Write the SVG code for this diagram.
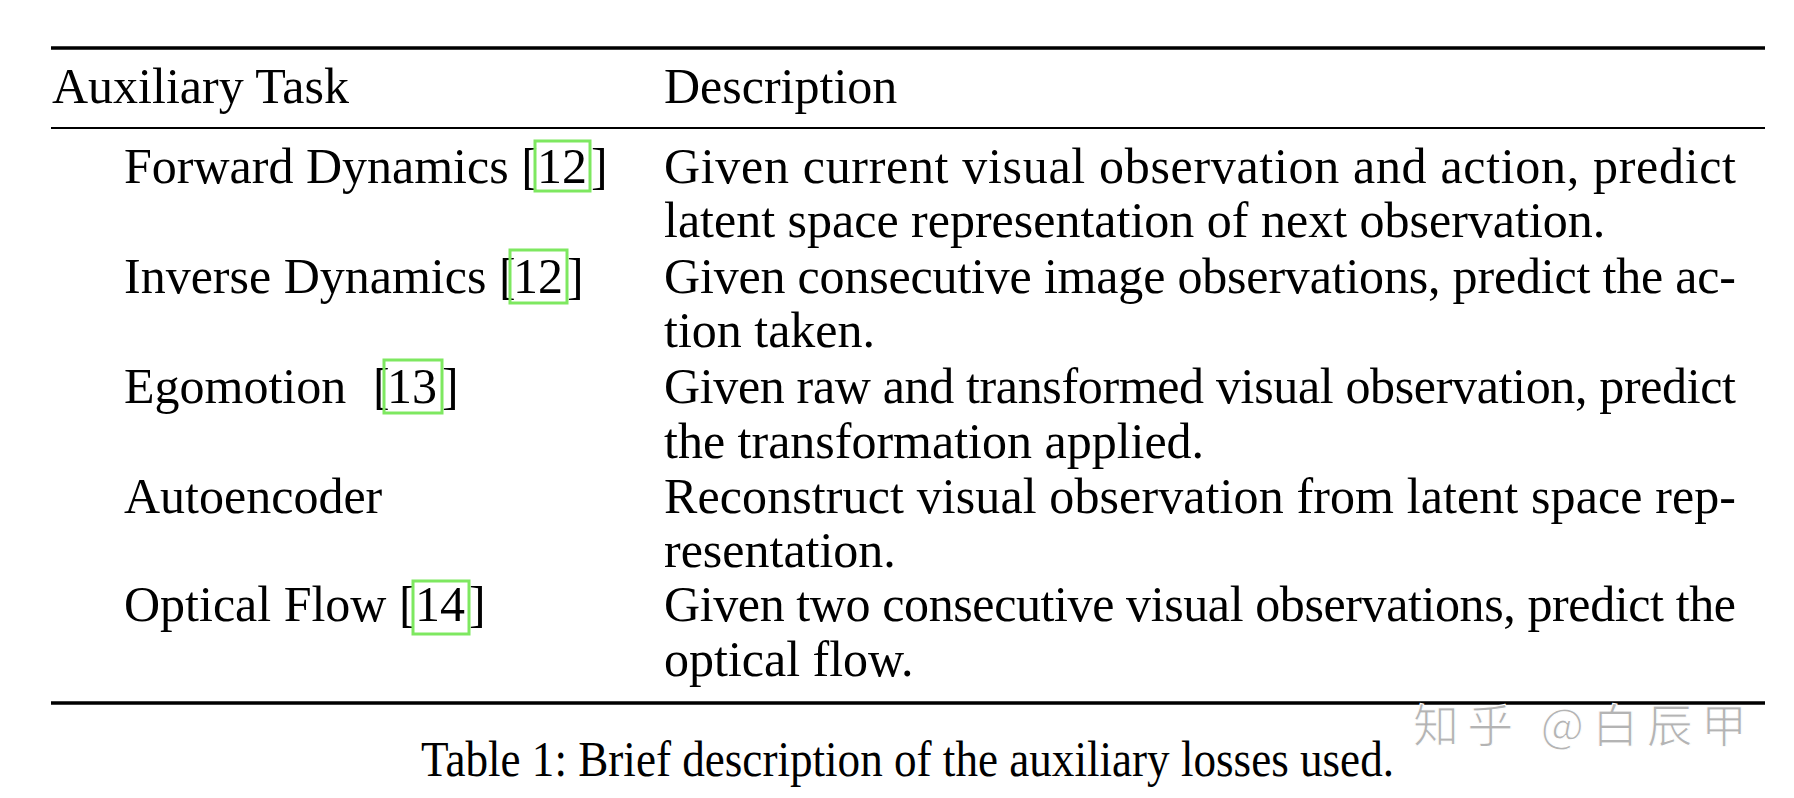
<svg xmlns="http://www.w3.org/2000/svg" width="1794" height="798" viewBox="0 0 1794 798">
<style>
text{font-family:"Liberation Serif","Times New Roman",serif;font-size:50px;fill:#000}
.r{fill:none;stroke:#7ee860;stroke-width:3}
.m{text-anchor:middle}
</style>
<rect width="1794" height="798" fill="#fff"/>
<g id="rules">
<line x1="51" y1="48" x2="1765" y2="48" stroke="#000" stroke-width="3.5"/>
<line x1="51" y1="128" x2="1765" y2="128" stroke="#000" stroke-width="2"/>
<line x1="51" y1="703" x2="1765" y2="703" stroke="#000" stroke-width="3.5"/>
</g>
<g id="header">
<text x="52" y="103">Auxiliary Task</text>
<text x="664" y="103">Description</text>
</g>
<g id="left">
<text x="124" y="183">Forward Dynamics [</text><text x="562" y="183" class="m">12</text><text x="591" y="183">]</text>
<rect class="r" x="535" y="141" width="55" height="50"/>
<text x="124" y="293">Inverse Dynamics [</text><text x="538" y="293" class="m">12</text><text x="567" y="293">]</text>
<rect class="r" x="510" y="250" width="57" height="53"/>
<text x="124" y="403">Egomotion</text><text x="373" y="403">[</text><text x="412" y="403" class="m">13</text><text x="442" y="403">]</text>
<rect class="r" x="384" y="360" width="58" height="53"/>
<text x="124" y="513">Autoencoder</text>
<text x="124" y="621">Optical Flow [</text><text x="440" y="621" class="m">14</text><text x="469" y="621">]</text>
<rect class="r" x="413" y="581" width="56" height="53"/>
</g>
<g id="desc">
<text x="664" y="183" textLength="1072" lengthAdjust="spacing">Given current visual observation and action, predict</text>
<text x="664" y="237">latent space representation of next observation.</text>
<text x="664" y="293" textLength="1072" lengthAdjust="spacing">Given consecutive image observations, predict the ac-</text>
<text x="664" y="347">tion taken.</text>
<text x="664" y="403" textLength="1072" lengthAdjust="spacing">Given raw and transformed visual observation, predict</text>
<text x="664" y="458">the transformation applied.</text>
<text x="664" y="513" textLength="1072" lengthAdjust="spacing">Reconstruct visual observation from latent space rep-</text>
<text x="664" y="567">resentation.</text>
<text x="664" y="621" textLength="1072" lengthAdjust="spacing">Given two consecutive visual observations, predict the</text>
<text x="664" y="676">optical flow.</text>
</g>
<text x="421" y="776" textLength="973" lengthAdjust="spacingAndGlyphs">Table 1: Brief description of the auxiliary losses used.</text>
<text x="1413" y="742" textLength="334" lengthAdjust="spacing" style="font-family:'Noto Sans CJK SC',sans-serif;font-size:46px;fill:#b4b4b4;stroke:#fff;stroke-width:1">知乎 @白辰甲</text>
</svg>
